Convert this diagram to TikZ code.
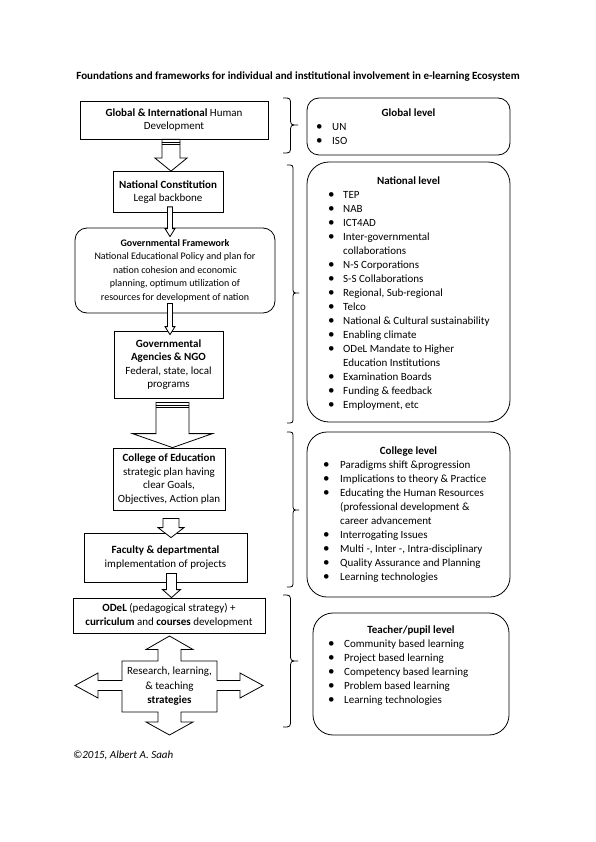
\documentclass[tikz,border=0pt]{standalone}
\usepackage{fontspec}
\setmainfont{Carlito}
\usetikzlibrary{calc}
\tikzset{
 bx/.style={draw, fill=white, align=center, inner sep=0pt, line width=0.8pt, font=\fontsize{11}{13.5}\selectfont},
 lvl/.style={draw, line width=0.8pt, inner sep=0pt},
 blk/.style={draw, fill=white, line width=0.8pt, line join=miter},
 itm/.style={inner sep=0pt, anchor=base west, font=\fontsize{11}{14}\selectfont},
 ttl/.style={inner sep=0pt, anchor=base, font=\bfseries\fontsize{11}{14}\selectfont},
 brc/.style={draw, line width=0.8pt},
}
\newcommand\blockdown[5]{%
 \draw[blk] let \p1=#1, \p2=#2 in (\x2-#3,\y1) -- (\x2-#3,\y2+#5) -- (\x2-#4,\y2+#5) -- (\x2,\y2) -- (\x2+#4,\y2+#5) -- (\x2+#3,\y2+#5) -- (\x2+#3,\y1) -- cycle;}
\newcommand\stripes[3]{%
 \draw[line width=0.7pt] let \p1=#1, \p2=#2 in (\x2-#3,\y1-2.5) -- (\x2+#3,\y1-2.5) (\x2-#3,\y1-4.5) -- (\x2+#3,\y1-4.5);}
\newcommand\brc[5]{%
 \draw[brc] ({#1},{#3}) .. controls ({#1+#2/2},{#3}) .. ({#1+#2/2},{#3+#2/2}) -- ({#1+#2/2},{#4-#2/2}) .. controls ({#1+#2/2},{#4}) .. ({#1+#2},{#4}) .. controls ({#1+#2/2},{#4}) .. ({#1+#2/2},{#4+#2/2}) -- ({#1+#2/2},{#5-#2/2}) .. controls ({#1+#2/2},{#5}) .. ({#1},{#5});}
\newcommand\bitem[5]{%
 \node[itm] (#1b) at (#2,#4) {{\fontsize{13}{14}\selectfont\textbullet}};
 \node[itm] (#1) at (#3,#4) {#5};}
\begin{document}
\begin{tikzpicture}[x=1pt,y=-1pt]
\useasboundingbox (0,0) rectangle (595,842);
\fill[white] (0,0) rectangle (595,842);

% title
\node[inner sep=0pt, font=\bfseries\fontsize{11}{13}\selectfont] (title) at (298,77) {Foundations and frameworks for individual and institutional involvement in e-learning Ecosystem};

% left column boxes
\node[bx, minimum width=188, minimum height=38] (b1) at (174,120) {\textbf{Global \& International} Human\\Development};
\node[bx, minimum width=110, minimum height=41] (b2) at (168,192) {\textbf{National Constitution}\\Legal backbone};
\node[bx, rounded corners=12pt, minimum width=200, minimum height=85, font=\fontsize{10}{13.5}\selectfont] (b3) at (175,270.5) {\textbf{Governmental Framework}\\National Educational Policy and plan for\\nation cohesion and economic\\planning, optimum utilization of\\resources for development of nation};
\node[bx, minimum width=109, minimum height=67] (b4) at (168.5,364.5) {\textbf{Governmental}\\\textbf{Agencies \& NGO}\\Federal, state, local\\programs};
\node[bx, minimum width=112, minimum height=62] (b5) at (169,479) {\textbf{College of Education}\\strategic plan having\\clear Goals,\\Objectives, Action plan};
\node[bx, minimum width=163, minimum height=49] (b6) at (165.5,557.5) {\textbf{Faculty \& departmental}\\implementation of projects};
\node[bx, minimum width=192, minimum height=35] (b7) at (169,615.5) {\textbf{ODeL} (pedagogical strategy) +\\\textbf{curriculum} and \textbf{courses} development};

% block arrows
\blockdown{(b1.south)}{($(b2.north)+(3,0)$)}{9}{16}{13}
\stripes{(b1.south)}{($(b2.north)+(3,0)$)}{9}
\blockdown{($(b2.south)+(0,-6)$)}{($(b3.north)+(-5,9)$)}{2.5}{5}{8}
\blockdown{($(b3.south)+(0,-10)$)}{($(b4.north)+(1.5,4)$)}{2.5}{5}{8}
\blockdown{($(b4.south)+(0,4)$)}{($(b5.north)+(3.5,0)$)}{16.5}{40}{14}
\stripes{($(b4.south)+(0,4)$)}{($(b5.north)+(3.5,0)$)}{16.5}
\blockdown{($(b5.south)+(0,8)$)}{($(b6.north)+(5.5,5)$)}{8}{13}{10}
\blockdown{($(b6.south)+(0,-9)$)}{($(b7.north)+(2.5,0)$)}{5}{9}{8}

% quad arrow
\coordinate (qa) at (169.5,685.5);
\draw[blk, shift={(qa)}] (0,-49.5) -- (23.5,-36) -- (11.5,-36) -- (11.5,-24.5) -- (47.5,-24.5) -- (47.5,-5) -- (70.5,-5) -- (70.5,-12.5) -- (93.5,0) -- (70.5,12.5) -- (70.5,5) -- (47.5,5) -- (47.5,26.5) -- (11.5,26.5) -- (11.5,36.5) -- (23.5,36.5) -- (0,49.5) -- (-23.5,36.5) -- (-11.5,36.5) -- (-11.5,26.5) -- (-47.5,26.5) -- (-47.5,5) -- (-71.5,5) -- (-71.5,12.5) -- (-94.5,0) -- (-71.5,-12.5) -- (-71.5,-5) -- (-47.5,-5) -- (-47.5,-24.5) -- (-11.5,-24.5) -- (-11.5,-36) -- (-23.5,-36) -- cycle;
\node[inner sep=0pt, align=center, font=\fontsize{11}{14.5}\selectfont] (qt) at (169.5,686.5) {Research, learning,\\\& teaching\\\textbf{strategies}};

% copyright
\node[inner sep=0pt, anchor=base west, font=\itshape\fontsize{11}{13}\selectfont] (copy) at (73,758.5) {©2015, Albert A. Saah};

% braces
\brc{283}{15}{98}{125}{153}
\brc{287}{12}{165}{293}{423}
\brc{287}{12}{432}{510}{587}
\brc{283}{15}{595}{661}{727}

% right boxes
\node[lvl, rounded corners=12pt, minimum width=203, minimum height=57] (gl) at (408.5,126.5) {};
\node[lvl, rounded corners=22pt, minimum width=203, minimum height=260] (nl) at (408.5,292) {};
\node[lvl, rounded corners=20pt, minimum width=203, minimum height=165] (cl) at (408.5,514.5) {};
\node[lvl, rounded corners=20pt, minimum width=196, minimum height=122] (tl) at (411,674) {};

% global list
\node[ttl] (glt) at (408.5,116.5) {Global level};
\bitem{g1}{316}{332}{130.5}{UN}
\bitem{g2}{316}{332}{144.5}{ISO}

% national list
\node[ttl] (nlt) at (408.5,184.5) {National level};
\bitem{n1}{328}{343}{198.5}{TEP}
\bitem{n2}{328}{343}{212.5}{NAB}
\bitem{n3}{328}{343}{226.5}{ICT4AD}
\bitem{n4}{328}{343}{240.5}{Inter-governmental}
\node[itm] (n4c) at (343,254.5) {collaborations};
\bitem{n5}{328}{343}{268.5}{N-S Corporations}
\bitem{n6}{328}{343}{282.5}{S-S Collaborations}
\bitem{n7}{328}{343}{296.5}{Regional, Sub-regional}
\bitem{n8}{328}{343}{310.5}{Telco}
\bitem{n9}{328}{343}{324.5}{National \& Cultural sustainability}
\bitem{n10}{328}{343}{338.5}{Enabling climate}
\bitem{n11}{328}{343}{352.5}{ODeL Mandate to Higher}
\node[itm] (n11c) at (343,366.5) {Education Institutions};
\bitem{n12}{328}{343}{380.5}{Examination Boards}
\bitem{n13}{328}{343}{394.5}{Funding \& feedback}
\bitem{n14}{328}{343}{408.5}{Employment, etc}

% college list
\node[ttl] (clt) at (408.5,454.5) {College level};
\bitem{c1}{323}{340}{468.5}{Paradigms shift \&progression}
\bitem{c2}{323}{340}{482.5}{Implications to theory \& Practice}
\bitem{c3}{323}{340}{496.5}{Educating the Human Resources}
\node[itm] (c3c) at (340,510.5) {(professional development \&};
\node[itm] (c3d) at (340,524.5) {career advancement};
\bitem{c4}{323}{340}{538.5}{Interrogating Issues}
\bitem{c5}{323}{340}{552.5}{Multi -, Inter -, Intra-disciplinary}
\bitem{c6}{323}{340}{566.5}{Quality Assurance and Planning}
\bitem{c7}{323}{340}{580.5}{Learning technologies}

% teacher list
\node[ttl] (tlt) at (411,633.5) {Teacher/pupil level};
\bitem{t1}{328}{344}{647.5}{Community based learning}
\bitem{t2}{328}{344}{661.5}{Project based learning}
\bitem{t3}{328}{344}{675.5}{Competency based learning}
\bitem{t4}{328}{344}{689.5}{Problem based learning}
\bitem{t5}{328}{344}{703.5}{Learning technologies}
\end{tikzpicture}
\end{document}
